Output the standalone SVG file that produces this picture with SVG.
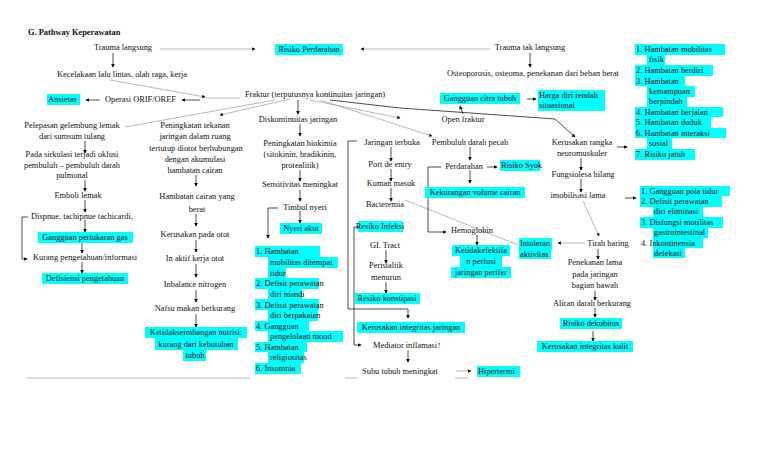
<svg xmlns="http://www.w3.org/2000/svg" width="768" height="466" viewBox="0 0 768 466">
<style>
text{font-family:"Liberation Serif",serif;font-size:8.4px;fill:#111}
.c{text-anchor:middle}
.h{fill:#00ffff}
.l{stroke:#222;stroke-width:0.8;fill:none}
.g{stroke:#999;stroke-width:0.7;fill:none}
</style>
<defs>
<marker id="a" viewBox="0 0 6 6" refX="5" refY="3" markerWidth="5" markerHeight="5" orient="auto"><path d="M0,0L6,3L0,6z" fill="#111"/></marker>
</defs>
<rect width="768" height="466" fill="#fff"/>
<text x="28" y="35" font-weight="bold">G.  Pathway Keperawatan</text>
<g id="connectors">
<path class="g" d="M160,49H255" marker-end="url(#a)"/>
<path class="g" d="M490,49H361" marker-end="url(#a)"/>
<path class="l" d="M113,53V67" marker-end="url(#a)"/>
<path class="l" d="M530,53V67" marker-end="url(#a)"/>
<path class="g" d="M110,80L205,97" marker-end="url(#a)"/>
<path class="g" d="M205,98H240"/>
<path class="l" d="M100,100H86" marker-end="url(#a)"/>
<path class="l" d="M200,100H182" marker-end="url(#a)"/>
<path class="g" d="M275,100L125,127"/>
<path class="g" d="M290,99L220,115" marker-end="url(#a)"/>
<path class="l" d="M298,100V114" marker-end="url(#a)"/>
<path class="g" d="M310,100L400,118" marker-end="url(#a)"/>
<path class="g" d="M320,100L432,136" marker-end="url(#a)"/>
<path class="l" d="M330,100L400,108L555,119L575,137" marker-end="url(#a)"/>
<path class="l" d="M463,114L460,106" marker-end="url(#a)"/>
<path class="l" d="M527,99H536" marker-end="url(#a)"/>
<path class="l" d="M85,141V153" marker-end="url(#a)"/>
<path class="l" d="M85,180V191" marker-end="url(#a)"/>
<path class="l" d="M85,200V212" marker-end="url(#a)"/>
<path class="l" d="M85,220V232" marker-end="url(#a)"/>
<path class="l" d="M82,243V253" marker-end="url(#a)"/>
<path class="l" d="M82,262V273" marker-end="url(#a)"/>
<path class="l" d="M28,217H22V259H27" marker-end="url(#a)"/>
<path class="l" d="M196,175V186" marker-end="url(#a)"/>
<path class="l" d="M196,214V226" marker-end="url(#a)"/>
<path class="l" d="M196,240V252" marker-end="url(#a)"/>
<path class="l" d="M196,264V277" marker-end="url(#a)"/>
<path class="l" d="M196,290V302" marker-end="url(#a)"/>
<path class="l" d="M196,314V327" marker-end="url(#a)"/>
<path class="l" d="M300,124V136" marker-end="url(#a)"/>
<path class="l" d="M300,170V181" marker-end="url(#a)"/>
<path class="l" d="M300,190V201" marker-end="url(#a)"/>
<path class="l" d="M300,211V223" marker-end="url(#a)"/>
<path class="l" d="M278,208H268V238" marker-end="url(#a)"/>
<path class="l" d="M357,141H348V309H408V318" marker-end="url(#a)"/>
<path class="l" d="M391,147V161" marker-end="url(#a)"/>
<path class="l" d="M391,169V181" marker-end="url(#a)"/>
<path class="l" d="M391,188V201" marker-end="url(#a)"/>
<path class="l" d="M358,227H354V345H361" marker-end="url(#a)"/>
<path class="l" d="M386,250V263" marker-end="url(#a)"/>
<path class="l" d="M386,282V293" marker-end="url(#a)"/>
<path class="l" d="M408,350V362" marker-end="url(#a)"/>
<path class="g" d="M456,371H471" marker-end="url(#a)"/>
<path class="g" d="M405,200L518,245"/>
<path class="l" d="M470,147V160" marker-end="url(#a)"/>
<path class="l" d="M487,167H497" marker-end="url(#a)"/>
<path class="l" d="M470,170V183" marker-end="url(#a)"/>
<path class="l" d="M441,167H428V232H446" marker-end="url(#a)"/>
<path class="l" d="M477,235V245" marker-end="url(#a)"/>
<path class="g" d="M585,243H558" marker-end="url(#a)"/>
<path class="l" d="M617,147H627" marker-end="url(#a)"/>
<path class="l" d="M581,158V170" marker-end="url(#a)"/>
<path class="l" d="M581,179V192" marker-end="url(#a)"/>
<path class="l" d="M625,198H636" marker-end="url(#a)"/>
<path class="g" d="M583,201L599,236" marker-end="url(#a)"/>
<path class="l" d="M598,249V259" marker-end="url(#a)"/>
<path class="l" d="M595,291V300" marker-end="url(#a)"/>
<path class="l" d="M595,308V317" marker-end="url(#a)"/>
<path class="l" d="M593,331V341" marker-end="url(#a)"/>
<path class="g" d="M27,378H250"/>
<path class="g" d="M345,378H357"/>
<path class="g" d="M455,378H468"/>
</g>
<g id="top">
<text class="c" x="123" y="50">Trauma langsung</text>
<rect class="h" x="275" y="44" width="68" height="11"/><text class="c" x="309" y="52">Risiko Perdarahan</text>
<text class="c" x="530" y="50">Trauma tak langsung</text>
<text class="c" x="122" y="77">Kecelakaan lalu lintas, olah raga, kerja</text>
<text class="c" x="533" y="76">Osteoporosis, osteoma, penekanan dari beban berat</text>
<rect class="h" x="47" y="94" width="33" height="11"/><text x="48" y="102">Ansietas</text>
<text x="105" y="102">Operasi ORIF/OREF</text>
<text class="c" x="315" y="97">Fraktur (terputusnya kontinuitas jaringan)</text>
<rect class="h" x="440" y="93" width="80" height="11"/><text class="c" x="480" y="101">Gangguan citra tubuh</text>
<rect class="h" x="538" y="90" width="67" height="21"/><text x="539" y="98">Harga diri rendah</text><text x="539" y="108">situasional</text>
<text class="c" x="463" y="122">Open fraktur</text>
</g>
<g id="col1">
<text class="c" x="72" y="128">Pelepasan gelembung lemak</text>
<text class="c" x="72" y="139">dari sumsum tulang</text>
<text class="c" x="72" y="157">Pada sirkulasi terjadi oklusi</text>
<text class="c" x="72" y="168">pembuluh – pembuluh darah</text>
<text class="c" x="72" y="178">pulmonal</text>
<text class="c" x="78" y="198">Emboli lemak</text>
<text class="c" x="82" y="219">Dispnue, tachipnue tachicardi,</text>
<rect class="h" x="38" y="232" width="95" height="11"/><text class="c" x="85" y="240">Gangguan pertukaran gas</text>
<text class="c" x="85" y="260">Kurang pengetahuan/informasi</text>
<rect class="h" x="42" y="273" width="86" height="11"/><text class="c" x="85" y="281">Defisiensi pengetahuan</text>
</g>
<g id="col2">
<text class="c" x="195" y="128">Peningkatan tekanan</text>
<text class="c" x="195" y="139">jaringan dalam ruang</text>
<text class="c" x="196" y="151">tertutup diotot berhubungan</text>
<text class="c" x="195" y="162">dengan akumulasi</text>
<text class="c" x="195" y="173">hambatan cairan</text>
<text class="c" x="197" y="199">Hambatan  cairan yang</text>
<text class="c" x="197" y="212">berat</text>
<text class="c" x="195" y="237">Kerusakan pada otot</text>
<text class="c" x="195" y="261">In aktif kerja otot</text>
<text class="c" x="195" y="287">Inbalance nitrogen</text>
<text class="c" x="195" y="311">Nafsu makan berkurang</text>
<rect class="h" x="145" y="327" width="102" height="11"/><text class="c" x="196" y="335">Ketidakseimbangan nutrisi:</text>
<rect class="h" x="155" y="338" width="83" height="12"/><text class="c" x="196" y="347">kurang dari kebutuhan</text>
<rect class="h" x="183" y="350" width="23" height="11"/><text class="c" x="195" y="358">tubuh</text>
</g>
<g id="col3">
<text class="c" x="298" y="122">Diskontinuitas jaringan</text>
<text class="c" x="300" y="146">Peningkatan biokimia</text>
<text class="c" x="300" y="157">(sitokinin, bradikinin,</text>
<text class="c" x="300" y="168">protealitik)</text>
<text class="c" x="300" y="187">Sensitivitas meningkat</text>
<text class="c" x="305" y="210">Timbul nyeri</text>
<rect class="h" x="280" y="223" width="42" height="11"/><text class="c" x="301" y="231">Nyeri akut</text>
<g>
<rect class="h" x="255" y="246" width="65" height="11"/><rect class="h" x="268" y="257" width="70" height="11"/><rect class="h" x="268" y="268" width="18" height="10"/>
<rect class="h" x="255" y="278" width="64" height="11"/><rect class="h" x="268" y="289" width="34" height="10"/>
<rect class="h" x="255" y="299" width="64" height="11"/><rect class="h" x="268" y="310" width="50" height="11"/>
<rect class="h" x="255" y="321" width="54" height="10"/><rect class="h" x="268" y="331" width="75" height="11"/>
<rect class="h" x="255" y="342" width="52" height="10"/><rect class="h" x="268" y="352" width="36" height="11"/>
<rect class="h" x="255" y="363" width="46" height="11"/>
<text x="256" y="254">1.   Hambatan</text><text x="270" y="265">mobilitas ditempat</text><text x="270" y="276">tidur</text>
<text x="256" y="286">2.   Defisit perawatan</text><text x="270" y="297">diri mandi</text>
<text x="256" y="308">3.   Defisit perawatan</text><text x="270" y="318">diri berpakaian</text>
<text x="256" y="329">4.   Gangguan</text><text x="270" y="339">pengelolaan mood</text>
<text x="256" y="350">5.   Hambatan</text><text x="270" y="360">religiositas</text>
<text x="256" y="371">6.   Insomnia</text>
</g>
</g>
<g id="col4">
<text class="c" x="392" y="145">Jaringan terbuka</text>
<text class="c" x="390" y="167">Port de entry</text>
<text class="c" x="391" y="186">Kuman masuk</text>
<text class="c" x="385" y="207">Bacteremia</text>
<rect class="h" x="358" y="221" width="45" height="11"/><text class="c" x="380" y="229">Resiko Infeksi</text>
<text class="c" x="385" y="248">GI. Tract</text>
<text class="c" x="386" y="268">Peristaltik</text>
<text class="c" x="386" y="280">menurun</text>
<rect class="h" x="355" y="293" width="65" height="11"/><text class="c" x="387" y="301">Resiko konstipasi</text>
<rect class="h" x="357" y="322" width="108" height="11"/><text class="c" x="411" y="330">Kerusakan integritas jaringan</text>
<text x="373" y="348">Mediator inflamasi↑</text>
<text class="c" x="400" y="374">Suhu tubuh meningkat</text>
<rect class="h" x="477" y="366" width="43" height="11"/><text x="478" y="374">Hipertermi</text>
</g>
<g id="col5">
<text class="c" x="470" y="145">Pembuluh darah pecah</text>
<text class="c" x="464" y="169">Perdarahan</text>
<rect class="h" x="500" y="160" width="40" height="11"/><text x="501" y="168">Risiko Syok</text>
<rect class="h" x="425" y="187" width="100" height="11"/><text class="c" x="475" y="195">Kekurangan volume cairan</text>
<text class="c" x="472" y="233">Hemoglobin</text>
<rect class="h" x="452" y="245" width="58" height="11"/><text class="c" x="481" y="253">Ketidakefektifa</text>
<rect class="h" x="460" y="256" width="42" height="11"/><text class="c" x="481" y="264">n  perfusi</text>
<rect class="h" x="451" y="267" width="60" height="11"/><text class="c" x="481" y="275">jaringan perifer</text>
<rect class="h" x="519" y="238" width="33" height="11"/><text x="520" y="246">Intoleran</text>
<rect class="h" x="519" y="249" width="32" height="10"/><text x="520" y="257">aktivitas</text>
</g>
<g id="col6">
<text class="c" x="582" y="145">Kerusakan rangka</text>
<text class="c" x="582" y="156">neuromuskuler</text>
<text class="c" x="583" y="177">Fungsiolesa hilang</text>
<text class="c" x="578" y="198">imobilisasi lama</text>
<text class="c" x="608" y="246">Tirah baring</text>
<text class="c" x="595" y="265">Penekanan lama</text>
<text class="c" x="595" y="277">pada jaringan</text>
<text class="c" x="595" y="288">bagian bawah</text>
<text class="c" x="592" y="306">Aliran darah berkurang</text>
<rect class="h" x="560" y="318" width="62" height="11"/><text class="c" x="591" y="326">Risiko dekubitus</text>
<rect class="h" x="537" y="341" width="96" height="11"/><text class="c" x="585" y="349">Kerusakan  integritas kulit</text>
</g>
<g id="list1">
<rect class="h" x="635" y="44" width="90" height="11"/><rect class="h" x="647" y="55" width="18" height="10"/>
<rect class="h" x="635" y="65" width="78" height="11"/><rect class="h" x="635" y="76" width="50" height="10"/>
<rect class="h" x="647" y="86" width="48" height="11"/><rect class="h" x="647" y="97" width="40" height="10"/>
<rect class="h" x="635" y="107" width="88" height="10"/><rect class="h" x="635" y="117" width="76" height="11"/>
<rect class="h" x="635" y="128" width="91" height="10"/><rect class="h" x="647" y="138" width="25" height="11"/>
<rect class="h" x="635" y="149" width="60" height="11"/>
<text x="636" y="52">1.   Hambatan mobilitas</text><text x="649" y="62">fisik</text>
<text x="636" y="73">2.   Hambatan berdiri</text>
<text x="636" y="84">3.   Hambatan</text><text x="649" y="94">kemampuan</text><text x="649" y="104">berpindah</text>
<text x="636" y="115">4.   Hambatan berjalan</text>
<text x="636" y="125">5.   Hambatan duduk</text>
<text x="636" y="136">6.   Hambatan interaksi</text><text x="649" y="146">sosial</text>
<text x="636" y="157">7.   Risiko jatuh</text>
</g>
<g id="list2">
<rect class="h" x="640" y="186" width="90" height="10"/><rect class="h" x="640" y="196" width="82" height="11"/>
<rect class="h" x="653" y="207" width="50" height="10"/><rect class="h" x="640" y="217" width="83" height="11"/>
<rect class="h" x="653" y="228" width="55" height="10"/><rect class="h" x="653" y="238" width="50" height="10"/>
<rect class="h" x="653" y="248" width="32" height="10"/>
<text x="641" y="194">1.   Gangguan pola tidur</text>
<text x="641" y="204">2.   Defisit perawatan</text><text x="654" y="214">diri eliminasi</text>
<text x="641" y="225">3.   Disfungsi motilitas</text><text x="654" y="235">gastrointestinal</text>
<text x="641" y="246">4.   Inkontinensia</text><text x="654" y="256">defekasi</text>
</g>
</svg>
